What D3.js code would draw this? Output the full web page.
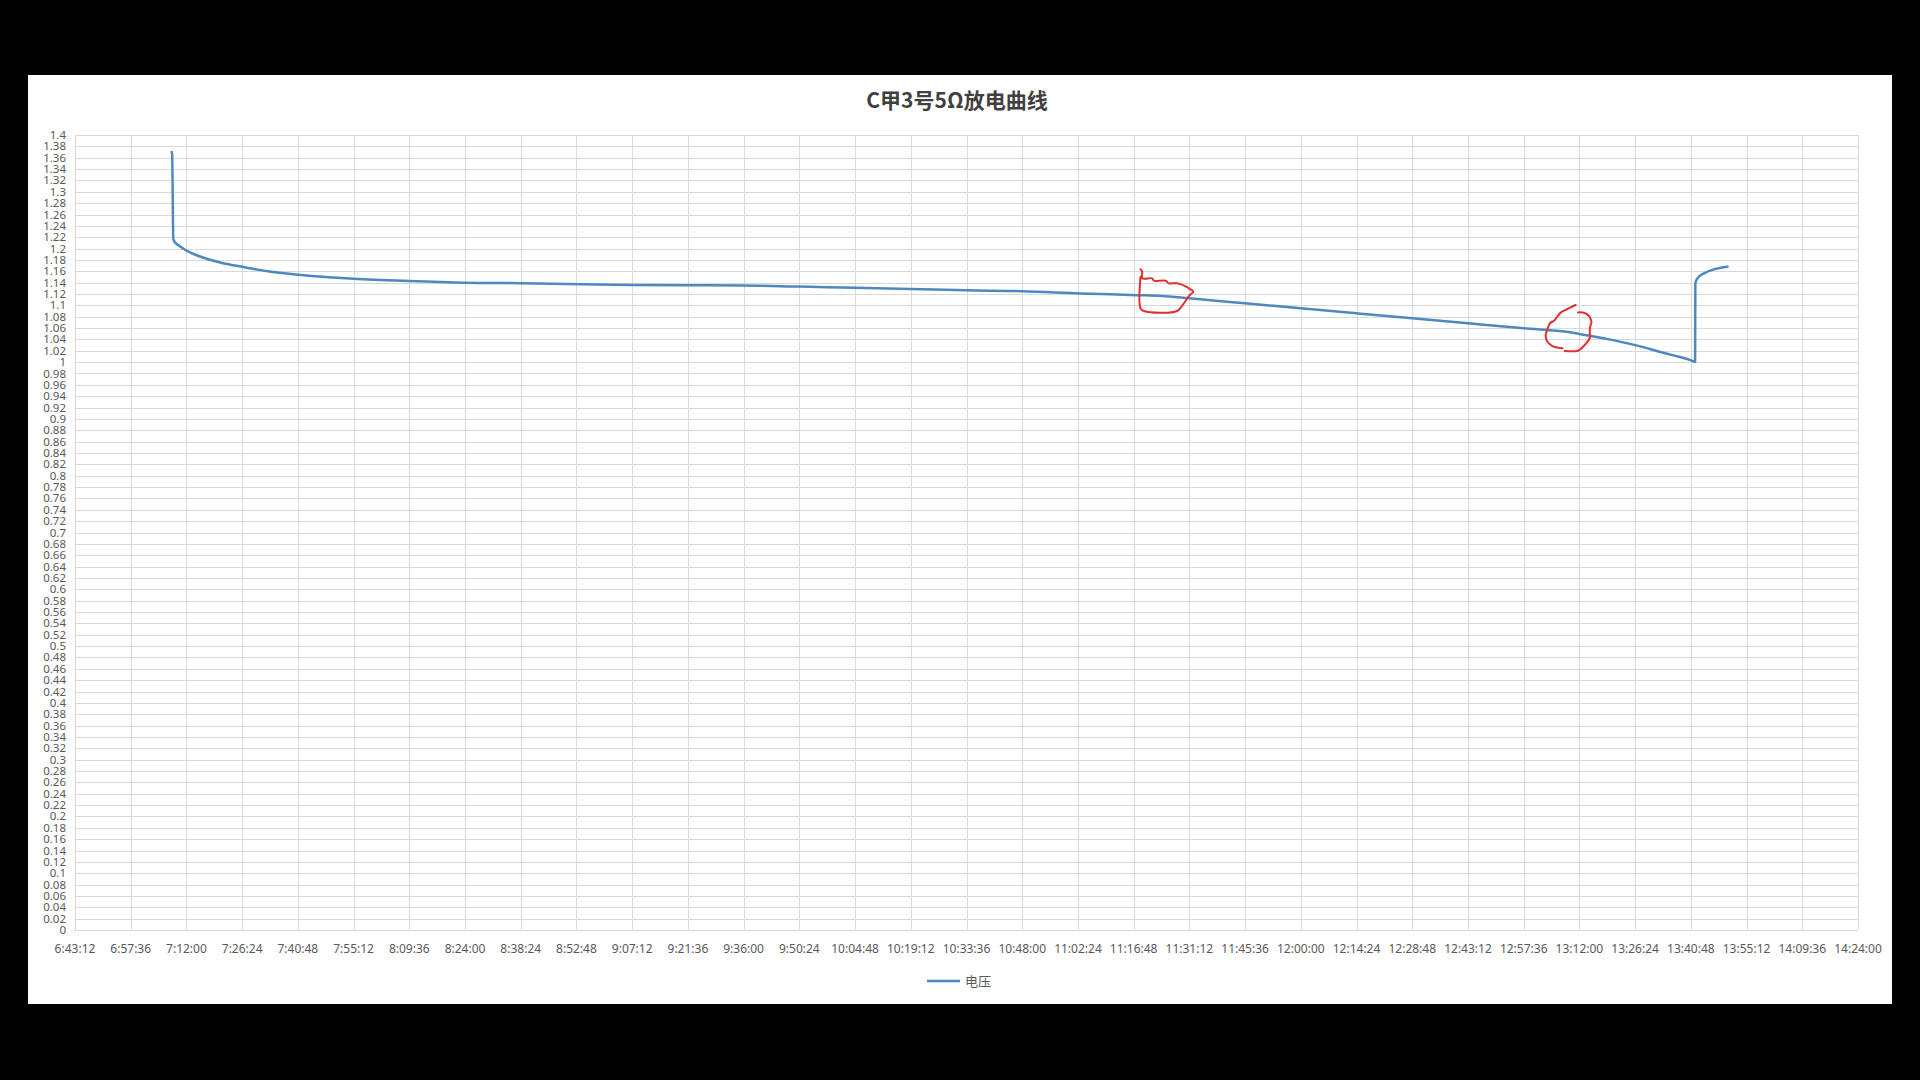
<!DOCTYPE html>
<html><head><meta charset="utf-8">
<script src="https://cdn.jsdelivr.net/npm/d3@7"></script>
<style>
html,body{margin:0;padding:0;background:#000;}
svg{display:block;}
</style></head>
<body>
<svg id="c" width="1920" height="1080"></svg>
<script>
// ---- data ----
const title = "C甲3号5Ω放电曲线";
const seriesName = "电压";
const xTickLabels = ["6:43:12","6:57:36","7:12:00","7:26:24","7:40:48","7:55:12","8:09:36","8:24:00","8:38:24","8:52:48","9:07:12","9:21:36","9:36:00","9:50:24","10:04:48","10:19:12","10:33:36","10:48:00","11:02:24","11:16:48","11:31:12","11:45:36","12:00:00","12:14:24","12:28:48","12:43:12","12:57:36","13:12:00","13:26:24","13:40:48","13:55:12","14:09:36","14:24:00"];
const times = ["7:08:12","7:08:18","7:08:37","7:09:10","7:09:55","7:11:39","7:14:00","7:16:49","7:21:00","7:26:18","7:33:00","7:40:57","7:48:00","7:55:10","8:09:23","8:24:03","8:38:16","8:53:47","9:07:12","9:21:36","9:36:00","9:50:24","10:04:53","10:19:12","10:33:31","10:48:00","11:03:04","11:17:48","11:24:07","11:31:12","11:45:36","12:00:00","12:14:24","12:28:48","12:43:12","12:57:36","13:10:17","13:12:00","13:19:00","13:26:24","13:34:00","13:38:00","13:40:30","13:41:54","13:41:58","13:42:31","13:44:13","13:46:49","13:50:17"];
const voltage = [1.370,1.366,1.216,1.210,1.206,1.198,1.190,1.183,1.175,1.168,1.160,1.154,1.150,1.147,1.143,1.140,1.139,1.137,1.136,1.1355,1.135,1.133,1.131,1.129,1.1265,1.125,1.121,1.118,1.1165,1.1124,1.1036,1.0948,1.086,1.0772,1.0684,1.0596,1.0519,1.0496,1.041,1.030,1.016,1.009,1.004,1.0005,1.139,1.1476,1.1564,1.1635,1.168];
const yMax = 1.4, yStep = 0.02;
// hand-drawn red annotation strokes, in data units [time, voltage]
const markBox = [["11:18:34",1.1635],["11:19:01",1.1593],["11:19:01",1.1476],["11:21:36",1.1476],["11:22:01",1.1434],["11:25:02",1.1434],["11:25:54",1.1388],["11:28:04",1.1388],["11:31:30",1.1283],["11:32:12",1.1241],["11:31:19",1.1182],["11:29:46",1.1036],["11:28:04",1.0901],["11:19:26",1.0901],["11:18:34",1.0948],["11:18:34",1.1505]];
const markCircleA = [["13:11:03",1.1006],["13:09:45",1.0966],["13:08:28",1.0920],["13:07:10",1.0872],["13:06:19",1.0802],["13:05:27",1.0731],["13:04:24",1.0686],["13:03:44",1.0578],["13:03:18",1.0478],["13:03:33",1.0378],["13:04:35",1.0302],["13:05:53",1.0261],["13:07:37",1.0244]];
const markCircleB = [["13:11:39",1.0876],["13:13:12",1.0871],["13:14:30",1.0812],["13:15:07",1.0712],["13:14:45",1.0613],["13:14:40",1.0508],["13:14:45",1.0437],["13:13:54",1.0342],["13:12:47",1.0261],["13:11:39",1.0201],["13:08:12",1.0196]];

// ---- helpers ----
const sec = s => { const p = s.split(":").map(Number); return p[0]*3600 + p[1]*60 + p[2]; };

const svg = d3.select("#c");
const frame = {x:28, y:75, w:1864, h:929};
const plot = {l:75, r:1858, t:135, b:930};

svg.append("rect").attr("x",frame.x).attr("y",frame.y).attr("width",frame.w).attr("height",frame.h)
  .attr("fill","#fff");

const x = d3.scaleLinear().domain([sec(xTickLabels[0]), sec(xTickLabels[xTickLabels.length-1])]).range([plot.l, plot.r]);
const y = d3.scaleLinear().domain([0, yMax]).range([plot.b, plot.t]);

const yTicks = d3.range(0, Math.round(yMax/yStep)+1).map(i => +(i*yStep).toFixed(2));

// gridlines
const grid = svg.append("g").attr("stroke","#d9d9d9").attr("stroke-width",1).attr("shape-rendering","crispEdges");
grid.selectAll("line.h").data(yTicks).join("line")
  .attr("x1",plot.l).attr("x2",plot.r).attr("y1",d=>Math.round(y(d))+0.5).attr("y2",d=>Math.round(y(d))+0.5);
grid.selectAll("line.v").data(xTickLabels).join("line")
  .attr("y1",plot.t).attr("y2",plot.b).attr("x1",d=>Math.round(x(sec(d)))+0.5).attr("x2",d=>Math.round(x(sec(d)))+0.5);

// y labels
svg.append("g").selectAll("text").data(yTicks).join("text")
  .attr("x",66).attr("y",d=>y(d)).attr("dy","0.35em")
  .attr("text-anchor","end").attr("font-family","'Noto Sans', sans-serif").attr("font-size",11.5)
  .attr("fill","#595959").text(d=>String(d));

// x labels
svg.append("g").selectAll("text").data(xTickLabels).join("text")
  .attr("x",d=>x(sec(d))).attr("y",953)
  .attr("text-anchor","middle").attr("font-family","'Noto Sans', sans-serif").attr("font-size",12)
  .attr("fill","#595959").text(d=>d);

// title
svg.append("text").attr("x",957).attr("y",108).attr("text-anchor","middle")
  .attr("font-family","'Noto Sans CJK SC', sans-serif").attr("font-weight","bold").attr("font-size",21)
  .attr("fill","#404040").text(title);

// series
const pts = times.map((t,i)=>[sec(t), voltage[i]]);
const line = d3.line().x(d=>x(d[0])).y(d=>y(d[1])).curve(d3.curveMonotoneX);
svg.append("path").datum(pts).attr("d",line).attr("fill","none")
  .attr("stroke","#4f87bf").attr("stroke-width",2.5).attr("stroke-linejoin","round").attr("stroke-linecap","round");

// red annotations
const mline = d3.line().x(d=>x(sec(d[0]))).y(d=>y(d[1])).curve(d3.curveCatmullRom.alpha(0.5));
[markBox, markCircleA, markCircleB].forEach(m=>{
  svg.append("path").datum(m).attr("d",mline).attr("fill","none")
    .attr("stroke","#e0302c").attr("stroke-width",2).attr("stroke-linejoin","round").attr("stroke-linecap","round");
});

// legend
const lg = svg.append("g");
lg.append("line").attr("x1",927).attr("x2",960).attr("y1",981).attr("y2",981)
  .attr("stroke","#4f87bf").attr("stroke-width",2.5);
lg.append("text").attr("x",965).attr("y",981).attr("dy","0.35em")
  .attr("font-family","'Noto Sans CJK SC', sans-serif").attr("font-size",13).attr("fill","#595959").text(seriesName);
</script>
</body></html>
